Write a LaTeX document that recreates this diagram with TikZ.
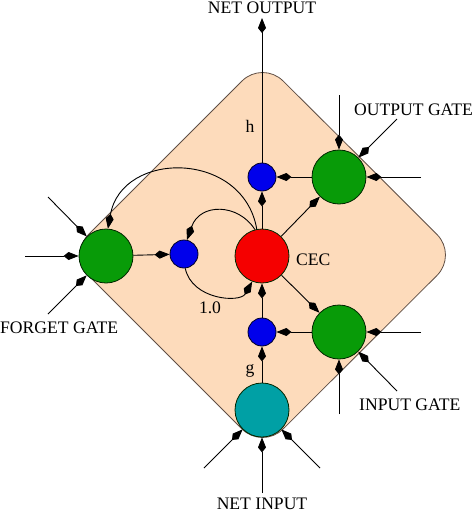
\documentclass[tikz,border=0pt]{standalone}
\usepackage{fontspec}
\setmainfont{Liberation Serif}
\usetikzlibrary{arrows.meta}
\definecolor{peach}{RGB}{253,219,187}
\definecolor{edgec}{RGB}{95,78,68}
\definecolor{gatec}{RGB}{8,155,8}
\definecolor{cecc}{RGB}{245,0,0}
\definecolor{multc}{RGB}{0,0,235}
\definecolor{netc}{RGB}{0,160,165}
\begin{document}
\begin{tikzpicture}[x=1pt,y=-1pt,
  big/.style={circle,draw=black!85!green,line width=0.8pt,minimum size=54pt,inner sep=0pt},
  small/.style={circle,draw=black!85!blue,line width=0.8pt,minimum size=28pt,inner sep=0pt},
  conn/.style={line width=0.9pt,-{Kite[length=15pt,width=8pt,inset=5pt]}},
  lbl/.style={font=\fontsize{17.6}{20}\selectfont,inner sep=0pt}]
\useasboundingbox (0,0) rectangle (474,512);
% background
\draw[fill=peach,draw=edgec,line width=0.8pt,rounded corners=29pt]
  (360,157.5) -- (457.5,255) -- (262.5,449.5) -- (68,255) -- (262.5,60.5) -- cycle;
% nodes
\node[big,fill=cecc] (cec) at (262,256) {};
\node[big,fill=gatec] (fg) at (106,256) {};
\node[big,fill=gatec] (og) at (339,177) {};
\node[big,fill=gatec] (ig) at (339,332) {};
\node[big,fill=netc] (ni) at (262,410) {};
\node[small,fill=multc] (bt) at (262,177) {};
\node[small,fill=multc] (bm) at (184,254) {};
\node[small,fill=multc] (bl) at (262,332) {};
\coordinate (out) at (262,18);
% forget gate inputs
\coordinate (f1) at (48,197);
\coordinate (f2) at (25,256);
\coordinate (f3) at (48,314);
\draw[conn] (f1) -- (fg);
\draw[conn] (f2) -- (fg);
\draw[conn] (f3) -- (fg);
% output gate inputs
\coordinate (o1) at (339,95);
\coordinate (o2) at (397,119);
\coordinate (o3) at (421,177);
\draw[conn] (o1) -- (og);
\draw[conn] (o2) -- (og);
\draw[conn] (o3) -- (og);
% input gate inputs
\coordinate (i1) at (421,332);
\coordinate (i2) at (397,391);
\coordinate (i3) at (339,414);
\draw[conn] (i1) -- (ig);
\draw[conn] (i2) -- (ig);
\draw[conn] (i3) -- (ig);
% net input inputs
\coordinate (n1) at (204,468);
\coordinate (n2) at (262,493);
\coordinate (n3) at (320,468);
\draw[conn] (n1) -- (ni);
\draw[conn] (n2) -- (ni);
\draw[conn] (n3) -- (ni);
% internal
\draw[conn] (fg) -- (bm);
\draw[conn] (ni) -- (bl);
\draw[conn] (ig) -- (bl);
\draw[conn] (bl) -- (cec);
\draw[conn] (cec) -- (ig);
\draw[conn] (cec) -- (og);
\draw[conn] (cec) -- (bt);
\draw[conn] (og) -- (bt);
\draw[conn] (bt) -- (out);
\draw[conn] (cec.101) .. controls (243,150) and (122,150) .. (fg.86);
\draw[conn] (cec.105) .. controls (238,203) and (200,203) .. (bm.78);
\draw[conn] (bm.275) .. controls (192,300) and (240,303) .. (cec.249);
% labels
\node[lbl,anchor=base] (tout) at (262,13) {NET OUTPUT};
\node[lbl,anchor=base west] (tog) at (354,115) {OUTPUT GATE};
\node[lbl,anchor=base] (th) at (250,132) {h};
\node[lbl,anchor=base west] (tcec) at (296,265) {CEC};
\node[lbl,anchor=base] (tone) at (210,313) {1.0};
\node[lbl,anchor=base west] (tfg) at (0,333) {FORGET GATE};
\node[lbl,anchor=base] (tg) at (250,373) {g};
\node[lbl,anchor=base west] (tig) at (359,410) {INPUT GATE};
\node[lbl,anchor=base] (tni) at (262,509) {NET INPUT};
\end{tikzpicture}
\end{document}
